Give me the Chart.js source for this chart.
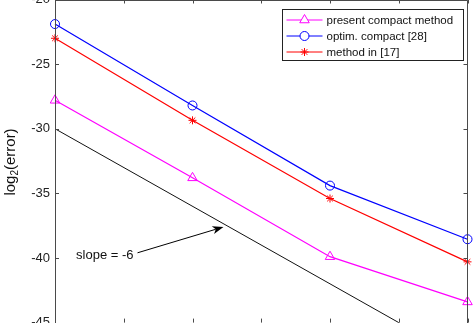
<!DOCTYPE html>
<html>
<head>
<meta charset="utf-8">
<script src="https://cdn.jsdelivr.net/npm/chart.js@4"></script>
<style>
    html, body { margin: 0; padding: 0; background: #fff; overflow: hidden; }
    #wrap { position: absolute; left: 0; top: -20px; width: 474px; height: 373px; }
</style>
</head>
<body>
<div id="wrap"><canvas id="errChart" width="474" height="373"></canvas></div>
<script>
// Convergence data (x = refinement level, y = log2 of the error)
const xLevels = [0, 1, 2, 3];
const presentCompact = [-27.8, -33.8, -39.9, -43.4];
const optimCompact = [-21.9, -28.2, -34.4, -38.55];
const methodIn17 = [-23.0, -29.35, -35.4, -40.3];

// Reference slope line
const slopeX = [0, 2.5];
const slopeY = [-30, -45];

// Tick values
const xTicks = [0, 0.5, 1, 1.5, 2, 2.5, 3];
const yTicks = [-45, -40, -35, -30, -25, -20];

// Annotation ("slope = -6" arrow), in data units
const arrowTail = [0.6, -39.6];
const arrowHead = [1.225, -37.6];
const arrowLabel = 'slope = -6';

const legendNames = ['present compact method', 'optim. compact [28]', 'method in [17]'];

const FONT = 'Arial, "Liberation Sans", Helvetica, sans-serif';

function toPoints(xs, ys) {
    return xs.map((x, i) => ({ x: x, y: ys[i] }));
}

// Axes box + inward tick marks (MATLAB style)
const frameBox = {
    id: 'frameBox',
    afterDatasetsDraw(chart) {
        const ctx = chart.ctx;
        const a = chart.chartArea;
        const xs = chart.scales.x, ys = chart.scales.y;
        ctx.save();
        ctx.strokeStyle = '#4a4a4a';
        ctx.lineWidth = 1;
        ctx.beginPath();
        ctx.rect(Math.round(a.left) + 0.5, Math.round(a.top) + 0.5,
            Math.round(a.right - a.left) - 1, Math.round(a.bottom - a.top));
        ctx.stroke();
        ctx.beginPath();
        xTicks.forEach(v => {
            const px = Math.round(xs.getPixelForValue(v)) + 0.5;
            ctx.moveTo(px, a.top); ctx.lineTo(px, a.top + 4);
            ctx.moveTo(px, a.bottom); ctx.lineTo(px, a.bottom - 4);
        });
        yTicks.forEach(v => {
            const py = Math.round(ys.getPixelForValue(v)) + 0.5;
            ctx.moveTo(a.left, py); ctx.lineTo(a.left + 4, py);
            ctx.moveTo(a.right, py); ctx.lineTo(a.right - 4, py);
        });
        ctx.stroke();
        ctx.restore();
    }
};

// Arrow with label
const slopeArrow = {
    id: 'slopeArrow',
    afterDatasetsDraw(chart) {
        const ctx = chart.ctx;
        const xs = chart.scales.x, ys = chart.scales.y;
        const x0 = xs.getPixelForValue(arrowTail[0]), y0 = ys.getPixelForValue(arrowTail[1]);
        const x1 = xs.getPixelForValue(arrowHead[0]), y1 = ys.getPixelForValue(arrowHead[1]);
        const ang = Math.atan2(y1 - y0, x1 - x0);
        ctx.save();
        ctx.strokeStyle = '#000';
        ctx.fillStyle = '#000';
        ctx.lineWidth = 1;
        ctx.beginPath();
        ctx.moveTo(x0, y0);
        ctx.lineTo(x1 - 8 * Math.cos(ang), y1 - 8 * Math.sin(ang));
        ctx.stroke();
        ctx.beginPath();
        ctx.moveTo(x1, y1);
        ctx.lineTo(x1 - 11 * Math.cos(ang) + 4 * Math.sin(ang), y1 - 11 * Math.sin(ang) - 4 * Math.cos(ang));
        ctx.lineTo(x1 - 8 * Math.cos(ang), y1 - 8 * Math.sin(ang));
        ctx.lineTo(x1 - 11 * Math.cos(ang) - 4 * Math.sin(ang), y1 - 11 * Math.sin(ang) + 4 * Math.cos(ang));
        ctx.closePath();
        ctx.fill();
        ctx.font = '13px ' + FONT;
        ctx.textAlign = 'right';
        ctx.textBaseline = 'middle';
        ctx.fillStyle = '#111';
        ctx.fillText(arrowLabel, x0 - 4, y0 + 3);
        ctx.restore();
    }
};

// Boxed legend in the upper right corner
const boxLegend = {
    id: 'boxLegend',
    afterDraw(chart) {
        const ctx = chart.ctx;
        const a = chart.chartArea;
        const w = 181, h = 51;
        const left = a.right - 5 - w, top = a.top + 9.5;
        ctx.save();
        ctx.fillStyle = '#fff';
        ctx.strokeStyle = '#222';
        ctx.lineWidth = 1;
        ctx.fillRect(left, top, w, h);
        ctx.strokeRect(Math.round(left) + 0.5, Math.round(top) + 0.5, w, h);
        ctx.font = '11.5px ' + FONT;
        ctx.textBaseline = 'middle';
        ctx.textAlign = 'left';
        chart.data.datasets.slice(0, 3).forEach((ds, i) => {
            const cy = top + 11 + i * 16;
            ctx.strokeStyle = ds.borderColor;
            ctx.lineWidth = 1;
            ctx.beginPath();
            ctx.moveTo(left + 5, cy);
            ctx.lineTo(left + 41, cy);
            ctx.stroke();
            ctx.fillStyle = '#fff';
            Chart.helpers.drawPoint(ctx, {
                pointStyle: ds.pointStyle,
                radius: ds.pointRadius,
                borderWidth: 1,
                rotation: 0
            }, left + 23, cy);
            ctx.fillStyle = '#111';
            ctx.fillText(legendNames[i], left + 45, cy + 1);
        });
        ctx.restore();
    }
};

// Rotated y title with subscript
const yTitle = {
    id: 'yTitle',
    afterDraw(chart) {
        const ctx = chart.ctx;
        const a = chart.chartArea;
        ctx.save();
        ctx.translate(14.5, a.top + 162.5);
        ctx.rotate(-Math.PI / 2);
        ctx.fillStyle = '#111';
        ctx.textBaseline = 'alphabetic';
        ctx.textAlign = 'left';
        const big = '15px ' + FONT, small = '10px ' + FONT;
        ctx.font = big;
        const w1 = ctx.measureText('log').width;
        const w3 = ctx.measureText('(error)').width;
        ctx.font = small;
        const w2 = ctx.measureText('2').width;
        let x = -(w1 + w2 + w3) / 2;
        ctx.font = big;
        ctx.fillText('log', x, 0);
        x += w1;
        ctx.font = small;
        ctx.fillText('2', x, 3.5);
        x += w2;
        ctx.font = big;
        ctx.fillText('(error)', x, 0);
        ctx.restore();
    }
};

const lineBase = {
    borderWidth: 1.2,
    pointBorderWidth: 1,
    pointBackgroundColor: 'rgba(0,0,0,0)',
    tension: 0,
    clip: false
};

new Chart(document.getElementById('errChart'), {
    type: 'line',
    data: {
        datasets: [
            Object.assign({}, lineBase, {
                label: legendNames[0],
                data: toPoints(xLevels, presentCompact),
                borderColor: '#ff00ff',
                pointBorderColor: '#ff00ff',
                pointStyle: 'triangle',
                pointRadius: 5.5
            }),
            Object.assign({}, lineBase, {
                label: legendNames[1],
                data: toPoints(xLevels, optimCompact),
                borderColor: '#0000ff',
                pointBorderColor: '#0000ff',
                pointStyle: 'circle',
                pointRadius: 4.5
            }),
            Object.assign({}, lineBase, {
                label: legendNames[2],
                data: toPoints(xLevels, methodIn17),
                borderColor: '#ff0000',
                pointBorderColor: '#ff0000',
                pointStyle: 'star',
                pointRadius: 4
            }),
            Object.assign({}, lineBase, {
                label: 'slope',
                data: toPoints(slopeX, slopeY),
                borderColor: '#111',
                borderWidth: 1,
                pointRadius: 0
            })
        ]
    },
    options: {
        responsive: false,
        devicePixelRatio: 1,
        animation: false,
        layout: { padding: { top: 19.5, right: 6, bottom: 30.4, left: 0 } },
        plugins: {
            legend: { display: false },
            tooltip: { enabled: false }
        },
        scales: {
            x: {
                type: 'linear',
                min: 0,
                max: 3,
                grid: { display: false, drawTicks: false },
                border: { display: false },
                ticks: { display: false, padding: 0 },
                afterFit(scale) { scale.height = 0; }
            },
            y: {
                type: 'linear',
                min: -45,
                max: -20,
                grid: { display: false, drawTicks: false },
                border: { display: false },
                afterBuildTicks(scale) {
                    scale.ticks = yTicks.map(v => ({ value: v }));
                },
                afterFit(scale) { scale.width = 55; },
                ticks: {
                    padding: 5,
                    color: '#222',
                    font: { family: FONT, size: 13 }
                }
            }
        }
    },
    plugins: [frameBox, slopeArrow, boxLegend, yTitle]
});
</script>
</body>
</html>
